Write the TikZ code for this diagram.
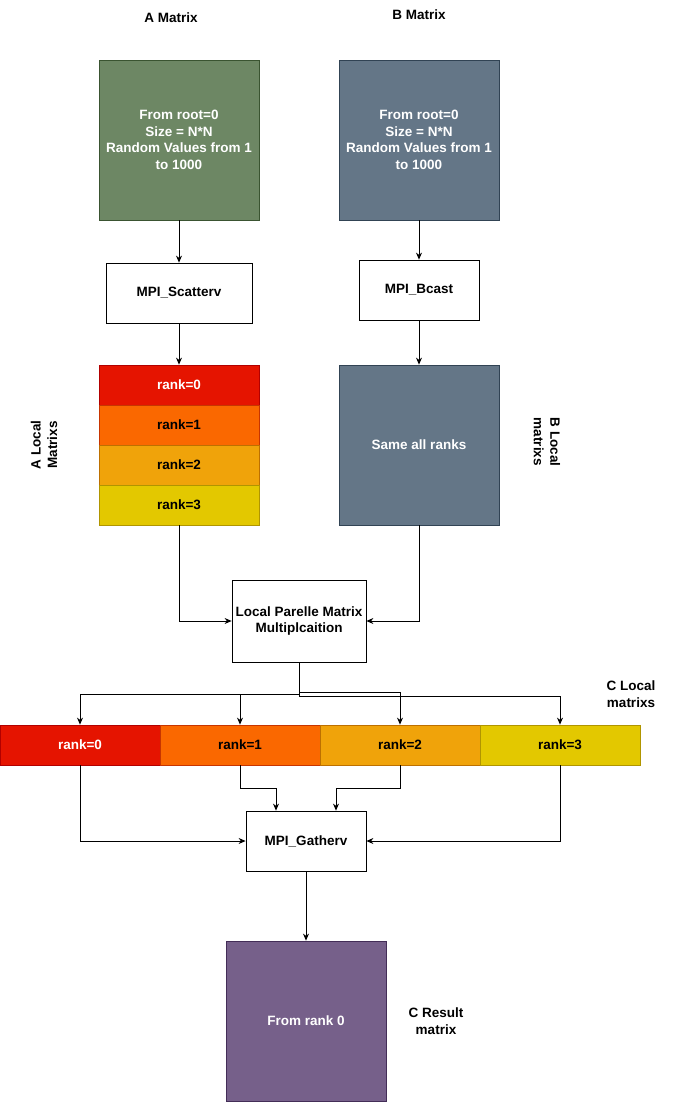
\documentclass[tikz,border=0pt]{standalone}
\usepackage{fontspec}
\setmainfont{Liberation Sans}
\usetikzlibrary{arrows.meta}
\definecolor{agreen}{HTML}{6D8764}
\definecolor{agreenline}{HTML}{3A5431}
\definecolor{bslate}{HTML}{647687}
\definecolor{bslateline}{HTML}{314354}
\definecolor{cpurple}{HTML}{76608A}
\definecolor{cpurpleline}{HTML}{432D57}
\definecolor{rankzero}{HTML}{E51400}
\definecolor{rankzeroline}{HTML}{B20000}
\definecolor{rankone}{HTML}{FA6800}
\definecolor{rankoneline}{HTML}{C73500}
\definecolor{ranktwo}{HTML}{F0A30A}
\definecolor{ranktwoline}{HTML}{BD7000}
\definecolor{rankthree}{HTML}{E3C800}
\definecolor{rankthreeline}{HTML}{B09500}

\begin{document}
\begin{tikzpicture}[x=1pt, y=-1pt, line width=0.8pt,
  every node/.style={font=\fontsize{13.5}{16.5}\selectfont\bfseries, align=center, inner sep=0pt},
  matbox/.style={draw, minimum width=160pt, minimum height=160pt, text=white},
  opbox/.style={draw, fill=white, minimum height=60pt},
  rankrow/.style={draw, minimum width=160pt, minimum height=40pt},
  arr/.style={-{Stealth[length=7pt, width=6pt]}}]
\useasboundingbox (0,0) rectangle (682,1102);
% Titles
\node (atitle) at (171,18) {A Matrix};
\node (btitle) at (419,15) {B Matrix};
% Input matrices
\node[matbox, fill=agreen, draw=agreenline] (amat) at (179,140) {From root=0\\Size = N*N\\Random Values from 1\\to 1000};
\node[matbox, fill=bslate, draw=bslateline] (bmat) at (419,140) {From root=0\\Size = N*N\\Random Values from 1\\to 1000};
% Distribution steps
\node[opbox, minimum width=146pt] (scatter) at (179,293) {MPI\_Scatterv};
\node[opbox, minimum width=120pt] (bcast) at (419,290) {MPI\_Bcast};
\draw[arr] (amat) -- (scatter);
\draw[arr] (bmat) -- (bcast);
% A local rows
\node[rankrow, fill=rankzero, draw=rankzeroline, text=white] (ra0) at (179,385) {rank=0};
\node[rankrow, fill=rankone, draw=rankoneline] (ra1) at (179,425) {rank=1};
\node[rankrow, fill=ranktwo, draw=ranktwoline] (ra2) at (179,465) {rank=2};
\node[rankrow, fill=rankthree, draw=rankthreeline] (ra3) at (179,505) {rank=3};
\node[rotate=90] (alocal) at (44,445) {A Local\\Matrixs};
% B local matrix
\node[matbox, fill=bslate, draw=bslateline] (blocal) at (419,445) {Same all ranks};
\node[rotate=-90] (blabel) at (547,442) {B Local\\matrixs};
\draw[arr] (scatter) -- (ra0);
\draw[arr] (bcast) -- (blocal);
% Local multiplication
\node[opbox, minimum width=134pt, minimum height=82pt] (mult) at (299,621) {Local Parelle Matrix\\Multiplcaition};
\draw[arr] (ra3.south) |- (mult.west);
\draw[arr] (blocal.south) |- (mult.east);
% C local rows
\node[rankrow, fill=rankzero, draw=rankzeroline, text=white] (c0) at (80,745) {rank=0};
\node[rankrow, fill=rankone, draw=rankoneline] (c1) at (240,745) {rank=1};
\node[rankrow, fill=ranktwo, draw=ranktwoline] (c2) at (400,745) {rank=2};
\node[rankrow, fill=rankthree, draw=rankthreeline] (c3) at (560,745) {rank=3};
\node (clocal) at (631,694) {C Local\\matrixs};
\draw[arr] (mult.south) -- ++(0,32) -| (c0.north);
\draw[arr] (mult.south) -- ++(0,32) -| (c1.north);
\draw[arr] (mult.south) -- ++(0,30) -| (c2.north);
\draw[arr] (mult.south) -- ++(0,34) -| (c3.north);
% Gather
\node[opbox, minimum width=120pt] (gather) at (306,841) {MPI\_Gatherv};
\draw[arr] (c0.south) |- (gather.west);
\draw[arr] (c3.south) |- (gather.east);
\draw[arr] (c1.south) -- ++(0,23) -| ([xshift=-30pt]gather.north);
\draw[arr] (c2.south) -- ++(0,23) -| ([xshift=30pt]gather.north);
% Result
\node[matbox, fill=cpurple, draw=cpurpleline] (cres) at (306,1021) {From rank 0};
\node (cresult) at (436,1021) {C Result\\matrix};
\draw[arr] (gather) -- (cres);
\end{tikzpicture}
\end{document}
